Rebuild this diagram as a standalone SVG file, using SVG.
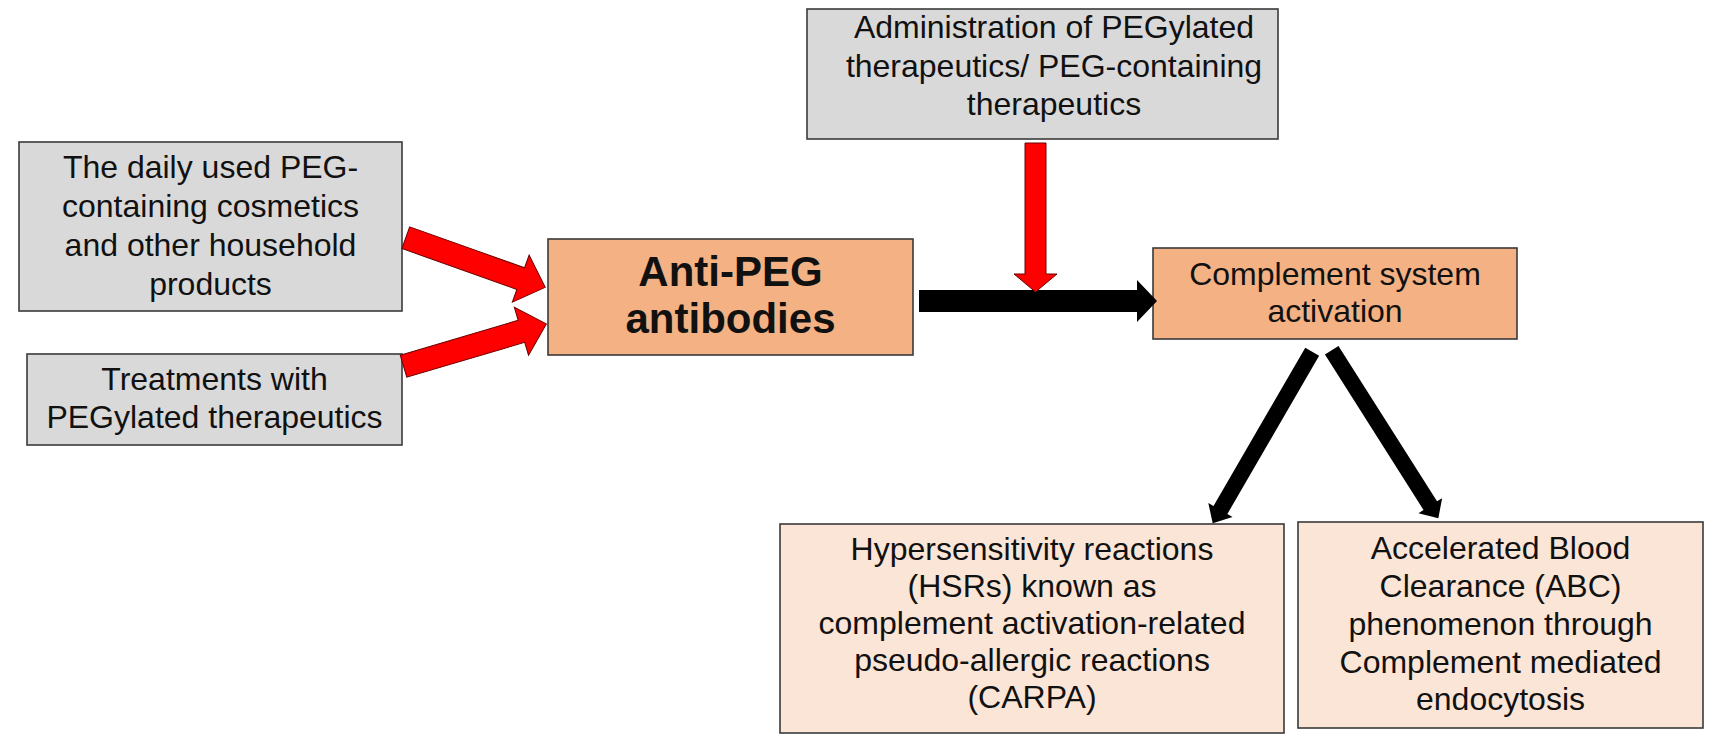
<svg xmlns="http://www.w3.org/2000/svg" width="1713" height="743" viewBox="0 0 1713 743">
<style>
  .box { stroke: #3a3a3a; stroke-width: 1.6; }
  .gray { fill: #d9d9d9; }
  .orange { fill: #f4b183; }
  .peach { fill: #fbe5d6; }
  .t { font-family: "Liberation Sans", Arial, sans-serif; font-size: 32px; fill: #111; text-anchor: middle; }
  .tb { font-family: "Liberation Sans", Arial, sans-serif; font-size: 42px; font-weight: bold; fill: #111; text-anchor: middle; }
  .red { fill: #ff0000; stroke: #6b0000; stroke-width: 1; stroke-linejoin: miter; }
  .blk { fill: #000; }
</style>
<rect width="1713" height="743" fill="#ffffff"/>

<g id="node-cosmetics">
  <rect class="box gray" x="19" y="142" width="383" height="169"/>
  <text class="t" x="210.5" y="178">The daily used PEG-</text>
  <text class="t" x="210.5" y="217">containing cosmetics</text>
  <text class="t" x="210.5" y="256">and other household</text>
  <text class="t" x="210.5" y="295">products</text>
</g>

<g id="node-treatments">
  <rect class="box gray" x="27" y="354" width="375" height="91"/>
  <text class="t" x="214.5" y="390">Treatments with</text>
  <text class="t" x="214.5" y="428">PEGylated therapeutics</text>
</g>

<g id="node-administration">
  <rect class="box gray" x="807" y="9" width="471" height="130"/>
  <text class="t" x="1054" y="38">Administration of PEGylated</text>
  <text class="t" x="1054" y="77">therapeutics/ PEG-containing</text>
  <text class="t" x="1054" y="115">therapeutics</text>
</g>

<g id="node-antipeg">
  <rect class="box orange" x="548" y="239" width="365" height="116"/>
  <text class="tb" x="730.5" y="286">Anti-PEG</text>
  <text class="tb" x="730.5" y="333">antibodies</text>
</g>

<g id="node-complement">
  <rect class="box orange" x="1153" y="248" width="364" height="91"/>
  <text class="t" x="1335" y="285">Complement system</text>
  <text class="t" x="1335" y="322">activation</text>
</g>

<g id="node-hsr">
  <rect class="box peach" x="780" y="524" width="504" height="209"/>
  <text class="t" x="1032" y="560">Hypersensitivity reactions</text>
  <text class="t" x="1032" y="597">(HSRs) known as</text>
  <text class="t" x="1032" y="634">complement activation-related</text>
  <text class="t" x="1032" y="671">pseudo-allergic reactions</text>
  <text class="t" x="1032" y="708">(CARPA)</text>
</g>

<g id="node-abc">
  <rect class="box peach" x="1298" y="522" width="405" height="206"/>
  <text class="t" x="1500.5" y="559">Accelerated Blood</text>
  <text class="t" x="1500.5" y="597">Clearance (ABC)</text>
  <text class="t" x="1500.5" y="635">phenomenon through</text>
  <text class="t" x="1500.5" y="673">Complement mediated</text>
  <text class="t" x="1500.5" y="710">endocytosis</text>
</g>

<g id="connectors">
  <polygon class="red" transform="translate(405.8,237.7) rotate(19.6)" points="0,-11.5 122,-11.5 122,-25 148,0 122,25 122,11.5 0,11.5"/>
  <polygon class="red" transform="translate(403.5,366.2) rotate(-16.5)" points="0,-11.5 123,-11.5 123,-25 149,0 123,25 123,11.5 0,11.5"/>
  <polygon class="blk" points="919,290 1137,290 1137,280 1157,301 1137,322 1137,312 919,312"/>
  <polygon class="red" points="1025,143 1046,143 1046,274 1057,274 1035.5,292 1014,274 1025,274"/>
  <polygon class="blk" transform="translate(1312.2,351.7) rotate(120.1)" points="0,-8 183,-8 183,-14 198.4,0 183,14 183,8 0,8"/>
  <polygon class="blk" transform="translate(1331.7,350.3) rotate(57.6)" points="0,-8 184,-8 184,-14 199,0 184,14 184,8 0,8"/>
</g>
</svg>
